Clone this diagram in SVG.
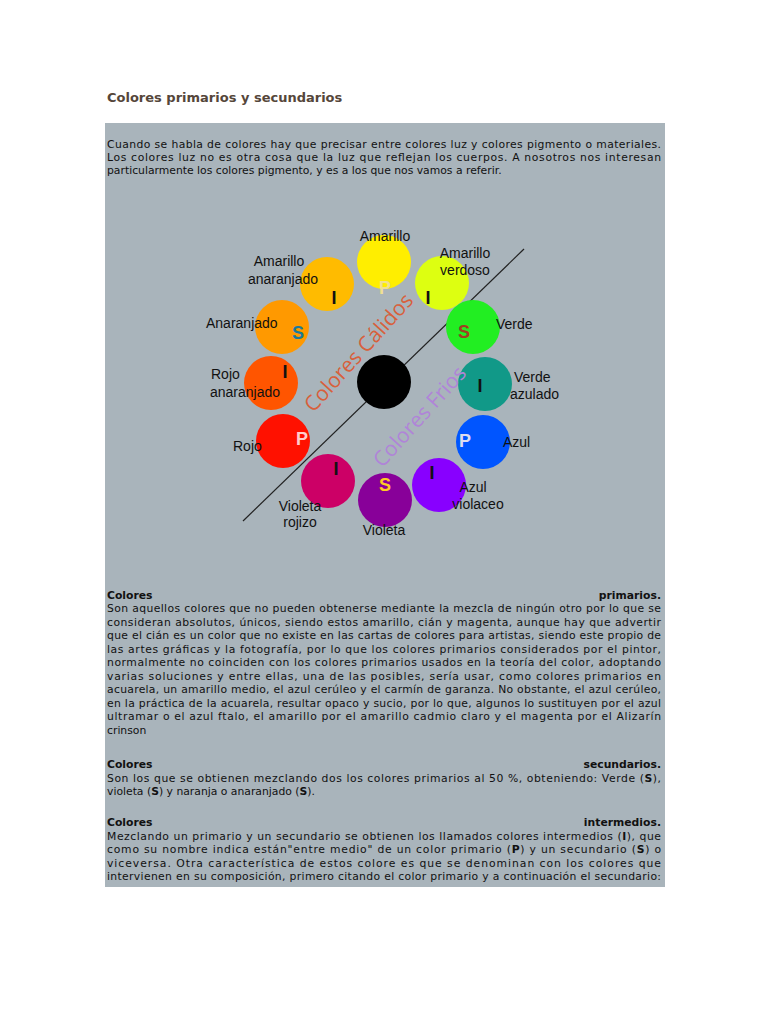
<svg xmlns="http://www.w3.org/2000/svg" width="768" height="1024" viewBox="0 0 768 1024">
<style>
.t{font-family:"DejaVu Sans",Verdana,sans-serif;font-size:10.8px;fill:#111}
.b{font-weight:bold}
.l{font-family:"Liberation Sans",Arial,sans-serif;font-size:14px;fill:#111}
.m{font-family:"Liberation Sans",Arial,sans-serif;font-size:18px;font-weight:bold}
</style>
<rect width="768" height="1024" fill="#fff"/>
<text x="107" y="102" font-family="DejaVu Sans,Verdana,sans-serif" font-size="13" font-weight="bold" fill="#55463a">Colores primarios y secundarios</text>
<rect x="105" y="123" width="560" height="764" fill="#a9b4bb"/>
<g id="intro" class="t">
<text x="107" y="148" textLength="554" lengthAdjust="spacing">Cuando se habla de colores hay que precisar entre colores luz y colores pigmento o materiales.</text>
<text x="107" y="161" textLength="554" lengthAdjust="spacing">Los colores luz no es otra cosa que la luz que reflejan los cuerpos. A nosotros nos interesan</text>
<text x="107" y="174">particularmente los colores pigmento, y es a los que nos vamos a referir.</text>
</g>
<g id="connectors"><line x1="243" y1="521" x2="524" y2="249" stroke="#222" stroke-width="1.2"/></g>
<g id="wheel">
<g id="amarillo"><circle cx="384" cy="262" r="27" fill="#ffee00"/><text class="m" x="385" y="294" text-anchor="middle" fill="#f0e090">P</text><text class="l" x="385" y="241" text-anchor="middle">Amarillo</text></g>
<g id="amarillo-verdoso"><circle cx="442" cy="283" r="27" fill="#ddff11"/><text class="m" x="428" y="304" text-anchor="middle" fill="#111">I</text><text class="l" x="465" y="258" text-anchor="middle">Amarillo</text><text class="l" x="465" y="275" text-anchor="middle">verdoso</text></g>
<g id="verde"><circle cx="473" cy="327" r="27" fill="#22ee22"/><text class="m" x="464" y="338" text-anchor="middle" fill="#a04020">S</text><text class="l" x="496" y="329">Verde</text></g>
<g id="verde-azulado"><circle cx="485" cy="384" r="27" fill="#119988"/><text class="m" x="480" y="392" text-anchor="middle" fill="#111">I</text><text class="l" x="514" y="382">Verde</text><text class="l" x="510" y="399">azulado</text></g>
<g id="azul"><circle cx="483" cy="442" r="27" fill="#0055ff"/><text class="m" x="465" y="447" text-anchor="middle" fill="#dde">P</text><text class="l" x="503" y="447">Azul</text></g>
<g id="azul-violaceo"><circle cx="439" cy="485" r="27" fill="#8800ff"/><text class="m" x="432" y="479" text-anchor="middle" fill="#111">I</text><text class="l" x="473" y="492" text-anchor="middle">Azul</text><text class="l" x="478" y="509" text-anchor="middle">violaceo</text></g>
<g id="violeta"><circle cx="385" cy="500" r="27" fill="#880099"/><text class="m" x="385" y="491" text-anchor="middle" fill="#ffcc22">S</text><text class="l" x="384" y="535" text-anchor="middle">Violeta</text></g>
<g id="violeta-rojizo"><circle cx="328" cy="481" r="27" fill="#cc0066"/><text class="m" x="336" y="475" text-anchor="middle" fill="#111">I</text><text class="l" x="300" y="511" text-anchor="middle">Violeta</text><text class="l" x="300" y="527" text-anchor="middle">rojizo</text></g>
<g id="rojo"><circle cx="283" cy="441" r="27" fill="#ff1100"/><text class="m" x="302" y="445" text-anchor="middle" fill="#ffcccc">P</text><text class="l" x="233" y="451">Rojo</text></g>
<g id="rojo-anaranjado"><circle cx="271" cy="383" r="27" fill="#ff5500"/><text class="m" x="285" y="378" text-anchor="middle" fill="#111">I</text><text class="l" x="211" y="379">Rojo</text><text class="l" x="210" y="397">anaranjado</text></g>
<g id="anaranjado"><circle cx="282" cy="327" r="27" fill="#ff9900"/><text class="m" x="298" y="339" text-anchor="middle" fill="#1a7a9a">S</text><text class="l" x="206" y="328">Anaranjado</text></g>
<g id="amarillo-anaranjado"><circle cx="327" cy="284" r="27" fill="#ffbb00"/><text class="m" x="334" y="304" text-anchor="middle" fill="#111">I</text><text class="l" x="279" y="266" text-anchor="middle">Amarillo</text><text class="l" x="283" y="284" text-anchor="middle">anaranjado</text></g>
<g id="negro"><circle cx="384" cy="382" r="27" fill="#000"/></g>
<text x="0" y="8" transform="translate(358,352) rotate(-48)" text-anchor="middle" font-family="Open Sans,DejaVu Sans,sans-serif" font-size="21" fill="#d8603c">Colores Cálidos</text>
<text x="0" y="8" transform="translate(419,416) rotate(-48)" text-anchor="middle" font-family="Open Sans,DejaVu Sans,sans-serif" font-size="21" fill="#b084d8">Colores Frios</text>
</g>
<g id="primarios" class="t">
<text class="b" x="107" y="599">Colores</text><text class="b" x="661" y="599" text-anchor="end">primarios.</text>
<text x="107" y="612" textLength="554" lengthAdjust="spacing">Son aquellos colores que no pueden obtenerse mediante la mezcla de ningún otro por lo que se</text>
<text x="107" y="625.5" textLength="554" lengthAdjust="spacing">consideran absolutos, únicos, siendo estos amarillo, cián y magenta, aunque hay que advertir</text>
<text x="107" y="639" textLength="554" lengthAdjust="spacing">que el cián es un color que no existe en las cartas de colores para artistas, siendo este propio de</text>
<text x="107" y="652.5" textLength="554" lengthAdjust="spacing">las artes gráficas y la fotografía, por lo que los colores primarios considerados por el pintor,</text>
<text x="107" y="666" textLength="554" lengthAdjust="spacing">normalmente no coinciden con los colores primarios usados en la teoría del color, adoptando</text>
<text x="107" y="679.5" textLength="554" lengthAdjust="spacing">varias soluciones y entre ellas, una de las posibles, sería usar, como colores primarios en</text>
<text x="107" y="693" textLength="554" lengthAdjust="spacing">acuarela, un amarillo medio, el azul cerúleo y el carmín de garanza. No obstante, el azul cerúleo,</text>
<text x="107" y="706.5" textLength="554" lengthAdjust="spacing">en la práctica de la acuarela, resultar opaco y sucio, por lo que, algunos lo sustituyen por el azul</text>
<text x="107" y="720" textLength="554" lengthAdjust="spacing">ultramar o el azul ftalo, el amarillo por el amarillo cadmio claro y el magenta por el Alizarín</text>
<text x="107" y="733.5">crinson</text>
</g>
<g id="secundarios" class="t">
<text class="b" x="107" y="768">Colores</text><text class="b" x="661" y="768" text-anchor="end">secundarios.</text>
<text x="107" y="781.5" textLength="554" lengthAdjust="spacing">Son los que se obtienen mezclando dos los colores primarios al 50 %, obteniendo: Verde (<tspan class="b">S</tspan>),</text>
<text x="107" y="795">violeta (<tspan class="b">S</tspan>) y naranja o anaranjado (<tspan class="b">S</tspan>).</text>
</g>
<g id="intermedios" class="t">
<text class="b" x="107" y="826">Colores</text><text class="b" x="661" y="826" text-anchor="end">intermedios.</text>
<text x="107" y="839.5" textLength="554" lengthAdjust="spacing">Mezclando un primario y un secundario se obtienen los llamados colores intermedios (<tspan class="b">I</tspan>), que</text>
<text x="107" y="853" textLength="554" lengthAdjust="spacing">como su nombre indica están"entre medio" de un color primario (<tspan class="b">P</tspan>) y un secundario (<tspan class="b">S</tspan>) o</text>
<text x="107" y="866.5" textLength="554" lengthAdjust="spacing">viceversa. Otra característica de estos colore es que se denominan con los colores que</text>
<text x="107" y="880" textLength="554" lengthAdjust="spacing">intervienen en su composición, primero citando el color primario y a continuación el secundario:</text>
</g>
</svg>
